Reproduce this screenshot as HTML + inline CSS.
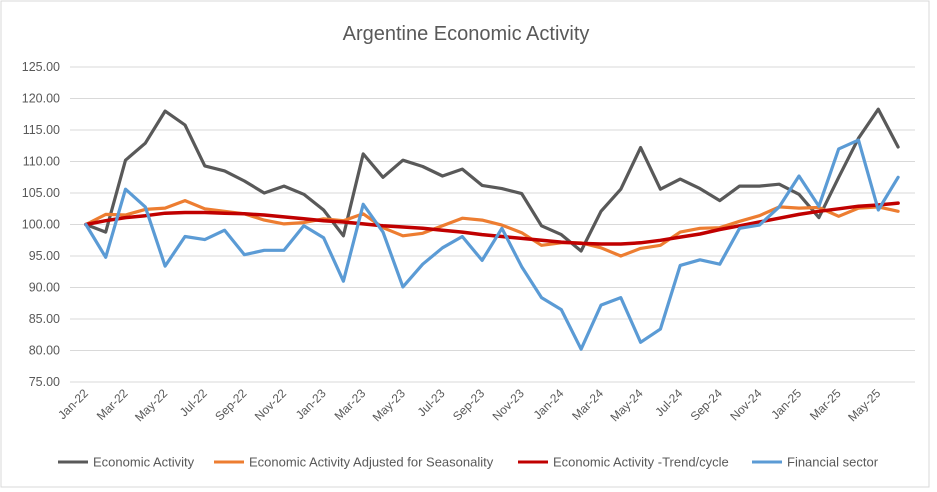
<!DOCTYPE html>
<html><head><meta charset="utf-8"><style>
body{margin:0;background:#fff;font-family:"Liberation Sans",sans-serif;}
svg{display:block}
</style></head><body>
<svg id="chart" width="937" height="492" viewBox="0 0 937 492">
<rect x="1" y="1" width="928" height="486" fill="#fff" stroke="#d9d9d9"/>
<text x="466" y="40" text-anchor="middle" font-size="20" fill="#595959">Argentine Economic Activity</text>
<g id="grid"></g><g id="ylabels"></g><g id="xlabels"></g><g id="series"></g><g id="legend"></g>
</svg>
<script>
const categories=["Jan-22","Feb-22","Mar-22","Apr-22","May-22","Jun-22","Jul-22","Aug-22","Sep-22","Oct-22","Nov-22","Dec-22","Jan-23","Feb-23","Mar-23","Apr-23","May-23","Jun-23","Jul-23","Aug-23","Sep-23","Oct-23","Nov-23","Dec-23","Jan-24","Feb-24","Mar-24","Apr-24","May-24","Jun-24","Jul-24","Aug-24","Sep-24","Oct-24","Nov-24","Dec-24","Jan-25","Feb-25","Mar-25","Apr-25","May-25","Jun-25"];
const econActivity=[100,98.8,110.2,112.9,118,115.8,109.3,108.5,106.9,105,106.1,104.8,102.3,98.2,111.2,107.5,110.2,109.2,107.7,108.8,106.2,105.7,104.9,99.8,98.4,95.8,102.1,105.6,112.2,105.6,107.2,105.7,103.8,106.1,106.1,106.4,104.8,101.1,107.5,113.7,118.3,112.3];
const seasonAdj=[100,101.6,101.5,102.4,102.6,103.8,102.5,102.1,101.7,100.7,100.1,100.3,100.9,100.6,101.7,99.5,98.2,98.6,99.8,101,100.7,99.9,98.7,96.7,97.1,97.1,96.3,95,96.2,96.7,98.8,99.4,99.5,100.5,101.4,102.8,102.6,102.7,101.3,102.6,102.8,102.1];
const trendCycle=[100,100.6,101.1,101.4,101.8,101.9,101.9,101.8,101.7,101.5,101.2,100.9,100.6,100.4,100.1,99.8,99.6,99.4,99.1,98.8,98.4,98.1,97.8,97.5,97.2,97.0,96.9,96.9,97.1,97.5,98.0,98.5,99.2,99.8,100.4,101.0,101.6,102.1,102.5,102.9,103.1,103.4];
const financial=[100,94.8,105.6,102.8,93.4,98.1,97.6,99.1,95.2,95.9,95.9,99.8,97.9,91.0,103.2,98.8,90.1,93.7,96.3,98.1,94.3,99.4,93.3,88.4,86.5,80.2,87.2,88.4,81.3,83.4,93.5,94.4,93.7,99.4,99.9,102.8,107.7,102.9,112,113.4,102.3,107.5];
const yTicks=[75,80,85,90,95,100,105,110,115,120,125];
const seriesNames=["Economic Activity","Economic Activity Adjusted for Seasonality","Economic Activity -Trend/cycle","Financial sector"];
const NS="http://www.w3.org/2000/svg";
const L=76,R=908,GL=70,GR=915,T=67,B=382,yMin=75,yMax=125;
const step=(R-L)/categories.length;
const xS=i=>L+step*(i+0.5);
const yS=v=>B-(v-yMin)/(yMax-yMin)*(B-T);
function mk(tag,attrs,parent){const e=document.createElementNS(NS,tag);for(const k in attrs)e.setAttribute(k,attrs[k]);document.getElementById(parent).appendChild(e);return e;}
yTicks.forEach(t=>{
 const g=mk("line",{x1:GL,x2:GR,y1:yS(t),y2:yS(t),stroke:"#d9d9d9","stroke-width":1},"grid");
 
 
 const tx=mk("text",{x:60,y:yS(t)+4,"text-anchor":"end","font-size":12.5,fill:"#595959"},"ylabels");
 tx.textContent=t.toFixed(2);
 
 
});
categories.forEach((c,i)=>{
 if(i%2)return;
 const x=xS(i),y=394;
 const tx=mk("text",{x:x+3,y:y,"text-anchor":"end","font-size":12,fill:"#595959",transform:`rotate(-45 ${x+3} ${y})`},"xlabels");
 tx.textContent=c;
 
 
});
const colors=["#595959","#ed7d31","#c00000","#5b9bd5"];
const data=[econActivity,seasonAdj,trendCycle,financial];
[0,1,2,3].forEach(k=>{
 const d=data[k].map((v,i)=>(i?"L":"M")+xS(i).toFixed(1)+" "+yS(v).toFixed(1)).join(" ");
 const p=mk("path",{d:d,fill:"none",stroke:colors[k],"stroke-width":k==2?3.5:3.2,"stroke-linejoin":"round","stroke-linecap":"round"},"series");
 
 
});
const lx=[58,214,518,752];
seriesNames.forEach((n,k)=>{
 const ln=mk("line",{x1:lx[k],x2:lx[k]+30,y1:462,y2:462,stroke:colors[k],"stroke-width":3},"legend");
 
 
 const tx=mk("text",{x:lx[k]+35,y:466.5,"font-size":13,fill:"#595959"},"legend");
 tx.textContent=n;
 
 
});
</script>
</body></html>
